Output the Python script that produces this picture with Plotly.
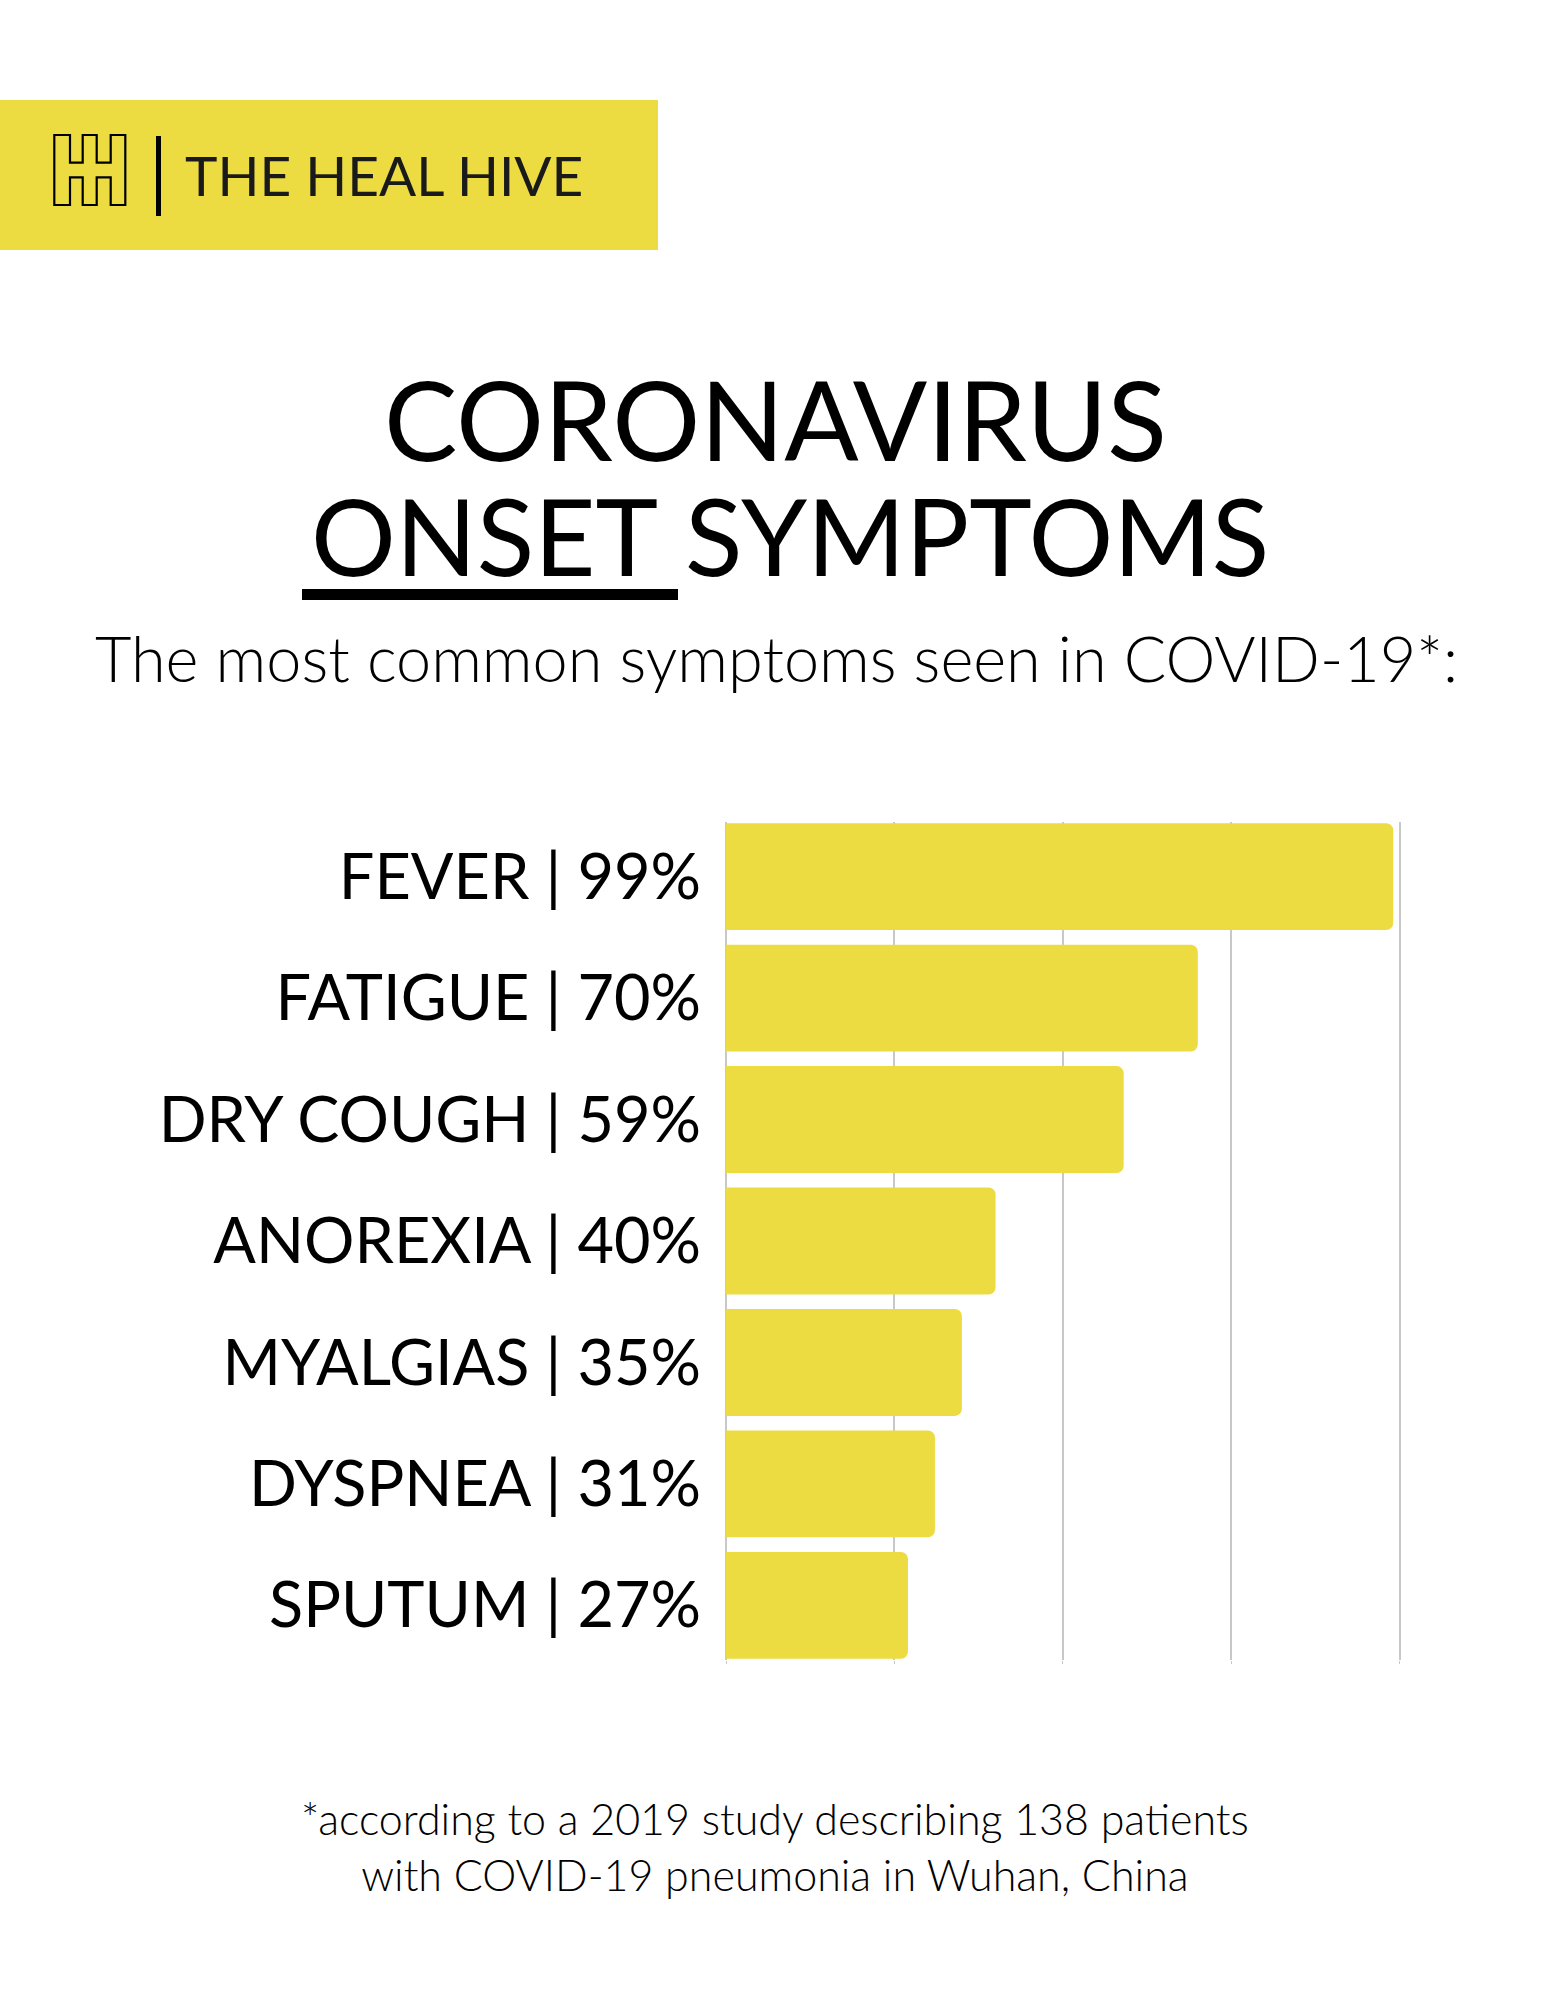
import plotly.graph_objects as go

# symptom data (share of 138 patients)
symptoms = ['FEVER', 'FATIGUE', 'DRY COUGH', 'ANOREXIA', 'MYALGIAS', 'DYSPNEA', 'SPUTUM']
percent = [99, 70, 59, 40, 35, 31, 27]
tick_labels = [f'{s} | {p}%' for s, p in zip(symptoms, percent)]

W, H = 1545, 2000
YELLOW = '#ECDC42'
FONT = 'Lato'


def px(x):
    return x / W


def py(y):
    return 1 - y / H


fig = go.Figure(go.Bar(
    x=percent, y=tick_labels, orientation='h',
    marker=dict(color=YELLOW, line=dict(width=0), cornerradius=7),
    width=0.88, hoverinfo='skip',
))

fig.update_layout(
    width=W, height=H,
    margin=dict(l=0, r=0, t=0, b=0),
    paper_bgcolor='white', plot_bgcolor='white',
    showlegend=False,
    font=dict(family=FONT, color='black'),
    xaxis=dict(domain=[px(726), px(1402)], range=[0, 100.3], dtick=25, tick0=0,
               showgrid=True, gridcolor='#c8c8c8', gridwidth=1.5,
               zeroline=True, zerolinecolor='#c8c8c8', zerolinewidth=1.5,
               showticklabels=False, ticks='outside', ticklen=3, tickcolor='#c8c8c8',
               fixedrange=True),
    yaxis=dict(domain=[py(1660), py(822)], range=[6.45, -0.45],
               categoryorder='array', categoryarray=tick_labels,
               showgrid=False, zeroline=False, ticks='',
               ticklabelstandoff=24,
               tickfont=dict(family=FONT, size=63, color='black'),
               fixedrange=True),
)

shapes = []
# yellow brand box
shapes.append(dict(type='rect', xref='paper', yref='paper', layer='below',
                   x0=px(0), x1=px(658), y0=py(250), y1=py(100),
                   fillcolor=YELLOW, line=dict(width=0)))
# logo mark
lx = [54.3, 70, 82.7, 96.7, 110.7, 125.3]
ly = [135, 162.7, 177.3, 205]
pts = [(lx[0], ly[0]), (lx[1], ly[0]), (lx[1], ly[1]), (lx[2], ly[1]), (lx[2], ly[0]),
       (lx[3], ly[0]), (lx[3], ly[1]), (lx[4], ly[1]), (lx[4], ly[0]), (lx[5], ly[0]),
       (lx[5], ly[3]), (lx[4], ly[3]), (lx[4], ly[2]), (lx[3], ly[2]), (lx[3], ly[3]),
       (lx[2], ly[3]), (lx[2], ly[2]), (lx[1], ly[2]), (lx[1], ly[3]), (lx[0], ly[3])]
path = 'M ' + ' L '.join(f'{px(a):.5f},{py(b):.5f}' for a, b in pts) + ' Z'
shapes.append(dict(type='path', xref='paper', yref='paper', path=path,
                   line=dict(color='black', width=2.2)))
# logo separator
shapes.append(dict(type='rect', xref='paper', yref='paper',
                   x0=px(156), x1=px(161), y0=py(216), y1=py(136),
                   fillcolor='black', line=dict(width=0)))
# underline below ONSET
shapes.append(dict(type='rect', xref='paper', yref='paper',
                   x0=px(302), x1=px(678), y0=py(600), y1=py(589),
                   fillcolor='black', line=dict(width=0)))
fig.update_layout(shapes=shapes)

annotations = [
    dict(text='THE HEAL HIVE', x=px(183), y=py(175), xanchor='left', yanchor='middle',
         font=dict(family=FONT, size=55, color='#1a1a1a')),
    dict(text='CORONAVIRUS', x=px(775), y=py(418), xanchor='center', yanchor='middle',
         font=dict(family=FONT, size=110)),
    dict(text='ONSET', x=px(660), y=py(535), xanchor='right', yanchor='middle',
         font=dict(family=FONT, size=106)),
    dict(text='SYMPTOMS', x=px(683), y=py(535), xanchor='left', yanchor='middle',
         font=dict(family=FONT, size=106)),
    dict(text='The most common symptoms seen in COVID-19*:', x=px(776), y=py(658),
         xanchor='center', yanchor='middle',
         font=dict(family=FONT, size=63, weight=300)),
    dict(text='*according to a 2019 study describing 138 patients<br>with COVID-19 pneumonia in Wuhan, China',
         x=px(775), y=py(1846), xanchor='center', yanchor='middle', align='center',
         font=dict(family=FONT, size=43, weight=300)),
]
for a in annotations:
    a.update(xref='paper', yref='paper', showarrow=False)
fig.update_layout(annotations=annotations)

# drop the default page margin so the figure sits flush at the top-left corner
fig.write_html('out.html', config={'displayModeBar': False},
               post_script="document.body.style.margin='0';")
